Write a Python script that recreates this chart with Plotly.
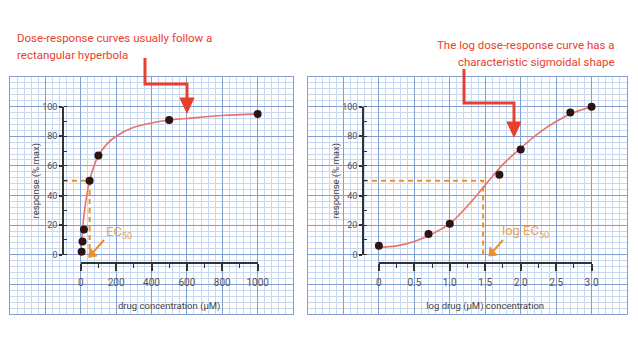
import plotly.graph_objects as go

# ---------------- data ----------------
conc_points = [5, 10, 18, 50, 100, 500, 1000]
resp_points_lin = [2, 9, 17, 50, 67, 91, 95]
curve_conc = [0, 10, 25, 50, 75, 100, 150, 200, 300, 400, 500, 600, 800, 1000]
curve_resp_lin = [0, 17, 33, 50, 60, 67, 75, 80, 86, 89, 91, 92, 94, 95]
ec50_conc = 50

logconc_points = [0, 0.7, 1.0, 1.7, 2.0, 2.7, 3.0]
resp_points_log = [6, 14, 21, 54, 71, 96, 100]
curve_logconc = [0, 0.25, 0.5, 0.75, 1.0, 1.25, 1.5, 1.75, 2.0, 2.25, 2.5, 2.75, 3.0]
curve_resp_log = [5, 6, 9, 14, 21, 33, 47, 61, 72, 82, 90, 96, 100]
log_ec50 = 1.47

lin_xticks = [0, 200, 400, 600, 800, 1000]
log_xticks = [0, 0.5, 1.0, 1.5, 2.0, 2.5, 3.0]
log_xticklabels = ["0", "0.5", "1.0", "1.5", "2.0", "2.5", "3.0"]
yticks = [0, 20, 40, 60, 80, 100]

# ---------------- layout helpers ----------------
W, H = 638, 359
def PX(p):
    return p / W
def PY(p):
    return 1 - p / H

BOX_TOP, BOX_BOT = 77, 314
GY_RANGE = [-40, 120]
L_BOX = (10, 293); L_XR = [-400, 1200]
R_BOX = (308, 627); R_XR = [-1.0, 3.5]

def map_x(v, box, rng):
    return box[0] + (v - rng[0]) / (rng[1] - rng[0]) * (box[1] - box[0])
def map_y(v):
    return BOX_BOT - (v - GY_RANGE[0]) / (GY_RANGE[1] - GY_RANGE[0]) * (BOX_BOT - BOX_TOP)

MAJOR = "#819fd0"
MINOR = "#c8d8f0"
RED = "#e8402c"
ORANGE = "#e8922f"
ORANGE_TXT = "#e6a35c"
CURVE = "#e9736a"
DOT = "#2a1414"
TXT = "#555555"
FONT = "Liberation Sans Narrow, Arial Narrow, Roboto, sans-serif"

fig = go.Figure()

# dashed EC50 guides on grid axes (extend to the detached y axis)
l_yaxis_px = 63
r_yaxis_px = 363
l_yaxis_val = L_XR[0] + (l_yaxis_px - L_BOX[0]) / (L_BOX[1] - L_BOX[0]) * (L_XR[1] - L_XR[0])
r_yaxis_val = R_XR[0] + (r_yaxis_px - R_BOX[0]) / (R_BOX[1] - R_BOX[0]) * (R_XR[1] - R_XR[0])

dash = dict(color=ORANGE, width=2, dash="5px,4px")
fig.add_trace(go.Scatter(x=[l_yaxis_val, ec50_conc, ec50_conc], y=[50, 50, -2], mode="lines",
                         line=dash, xaxis="x", yaxis="y", hoverinfo="skip", showlegend=False))
fig.add_trace(go.Scatter(x=[r_yaxis_val, log_ec50, log_ec50], y=[50, 50, -2], mode="lines",
                         line=dash, xaxis="x2", yaxis="y2", hoverinfo="skip", showlegend=False))

# curves and points on the data axes
fig.add_trace(go.Scatter(x=curve_conc, y=curve_resp_lin, mode="lines", line=dict(color=CURVE, width=1.6, shape="spline"),
                         xaxis="x3", yaxis="y3", showlegend=False))
fig.add_trace(go.Scatter(x=conc_points, y=resp_points_lin, mode="markers", marker=dict(color=DOT, size=8),
                         cliponaxis=False, xaxis="x3", yaxis="y3", showlegend=False))
fig.add_trace(go.Scatter(x=curve_logconc, y=curve_resp_log, mode="lines", line=dict(color=CURVE, width=1.6, shape="spline"),
                         xaxis="x4", yaxis="y4", showlegend=False))
fig.add_trace(go.Scatter(x=logconc_points, y=resp_points_log, mode="markers", marker=dict(color=DOT, size=8),
                         cliponaxis=False, xaxis="x4", yaxis="y4", showlegend=False))

def grid_x(box, rng, dt, mdt, anchor):
    return dict(domain=[PX(box[0]), PX(box[1])], range=rng, dtick=dt, tick0=0, showgrid=True,
                gridcolor=MAJOR, gridwidth=1, minor=dict(dtick=mdt, showgrid=True, gridcolor=MINOR, gridwidth=1),
                showticklabels=False, ticks="", zeroline=False, showline=True, linecolor=MAJOR,
                linewidth=1, mirror=True, anchor=anchor, fixedrange=True, automargin=False)

def grid_y(anchor):
    return dict(domain=[PY(BOX_BOT), PY(BOX_TOP)], range=GY_RANGE, dtick=20, tick0=0, showgrid=True,
                gridcolor=MAJOR, gridwidth=1, minor=dict(dtick=4, showgrid=True, gridcolor=MINOR, gridwidth=1),
                showticklabels=False, ticks="", zeroline=False, showline=True, linecolor=MAJOR,
                linewidth=1, mirror=True, anchor=anchor, fixedrange=True, automargin=False)

tickfont = dict(family=FONT, size=10, color=TXT)
titlefont = dict(family=FONT, size=9.5, color="#444444")
x_axis_line_px = 263

def data_x(box, rng, lo, hi, tickvals, ticktext, minor_dt, title):
    return dict(domain=[PX(map_x(lo, box, rng)), PX(map_x(hi, box, rng))], range=[lo, hi],
                anchor="free", position=PY(x_axis_line_px), showgrid=False, zeroline=False,
                showline=True, linecolor="#333333", linewidth=1.5,
                tickvals=tickvals, ticktext=ticktext, ticks="outside", ticklen=7, tickwidth=1.5,
                tickcolor="#333333", tickfont=tickfont, ticklabelstandoff=3,
                minor=dict(dtick=minor_dt, tick0=0, ticks="outside", ticklen=4, tickwidth=1, tickcolor="#333333"),
                title=dict(text=title, font=titlefont, standoff=15),
                fixedrange=True, automargin=False)

def data_y(pos_px, title):
    return dict(domain=[PY(map_y(0)), PY(map_y(100))], range=[0, 100], anchor="free", position=PX(pos_px),
                showgrid=False, zeroline=False, showline=True, linecolor="#333333", linewidth=1.5,
                tickvals=yticks, ticks="outside", ticklen=3, tickwidth=1.5, tickcolor="#333333",
                tickfont=dict(family=FONT, size=9, color=TXT), ticklabelstandoff=0,
                minor=dict(dtick=10, tick0=0, ticks="inside", ticklen=3, tickwidth=1, tickcolor="#333333"),
                title=dict(text=title, font=titlefont, standoff=0),
                fixedrange=True, automargin=False)

fig.update_layout(
    template="none",
    width=W, height=H, margin=dict(l=0, r=0, t=0, b=0, autoexpand=False),
    paper_bgcolor="white", plot_bgcolor="rgba(0,0,0,0)", showlegend=False,
    xaxis=grid_x(L_BOX, L_XR, 200, 40, "y"),
    yaxis=grid_y("x"),
    xaxis2=grid_x(R_BOX, R_XR, 0.5, 0.1, "y2"),
    yaxis2=grid_y("x2"),
    xaxis3=data_x(L_BOX, L_XR, 0, 1000, lin_xticks, [str(v) for v in lin_xticks], 100,
                  "drug concentration (µM)"),
    yaxis3=data_y(l_yaxis_px, "response (% max)"),
    xaxis4=data_x(R_BOX, R_XR, 0, 3.0, log_xticks, log_xticklabels, 0.25,
                  "log drug (µM) concentration"),
    yaxis4=data_y(r_yaxis_px, "response (% max)"),
)

ann = []
def text(x, y, s, size, color, xanchor="center", angle=0):
    ann.append(dict(x=PX(x), y=PY(y), xref="paper", yref="paper", text=s, showarrow=False,
                    xanchor=xanchor, yanchor="middle", textangle=angle,
                    font=dict(family=FONT, size=size, color=color)))

# red headline texts
text(15, 38, "Dose-response curves usually follow a", 11.5, RED, "left")
text(15, 55, "rectangular hyperbola", 11.5, RED, "left")
text(617, 45, "The log dose-response curve has a", 11.5, RED, "right")
text(617, 62, "characteristic sigmoidal shape", 11.5, RED, "right")

# EC50 labels
text(104, 232, "EC<sub>50</sub>", 13, ORANGE_TXT, "left")
text(500, 231, "log EC<sub>50</sub>", 13, ORANGE_TXT, "left")
fig.update_layout(annotations=ann)

# arrows drawn as paths
def path(points, close=False):
    s = "M " + " L ".join(f"{PX(x):.5f},{PY(y):.5f}" for x, y in points)
    return s + (" Z" if close else "")

shapes = []
# red bent arrows
for pts, tip in [([(145, 58), (145, 84), (187, 84), (187, 100)], (187, 113)),
                 ([(464, 69), (464, 103), (514, 103), (514, 122)], (514, 137))]:
    shapes.append(dict(type="path", xref="paper", yref="paper", path=path(pts),
                       line=dict(color=RED, width=3)))
    tx, ty = tip
    shapes.append(dict(type="path", xref="paper", yref="paper",
                       path=path([(tx - 7, ty - 15), (tx + 7, ty - 15), (tx, ty)], close=True),
                       fillcolor=RED, line=dict(color=RED, width=1)))
# orange pointer arrows (tail -> tip)
for tail, tip in [((104, 240), (89, 257)), ((503, 240), (489, 256))]:
    shapes.append(dict(type="path", xref="paper", yref="paper", path=path([tail, (tip[0] + 3, tip[1] - 3.5)]),
                       line=dict(color=ORANGE, width=2)))
    shapes.append(dict(type="path", xref="paper", yref="paper",
                       path=path([tip, (tip[0] + 1, tip[1] - 9), (tip[0] + 8, tip[1] - 1)], close=True),
                       fillcolor=ORANGE, line=dict(color=ORANGE, width=1)))
fig.update_layout(shapes=shapes)

fig.write_html("out.html", config={"displayModeBar": False},
               post_script="document.body.style.margin='0';")
